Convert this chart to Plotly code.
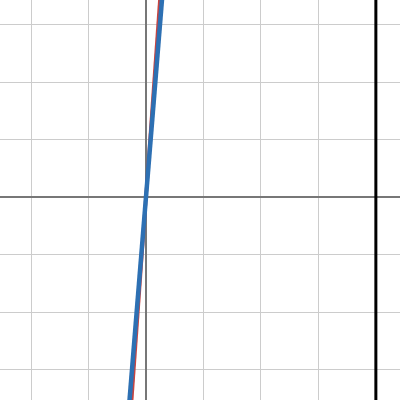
import plotly.graph_objects as go

red_x = [-0.26, 0.26]
red_y = [-3.7, 3.7]
blue_x = [-0.30, 0.30]
blue_y = [-3.7, 3.7]
vline_x = [4, 4]
vline_y = [-4, 4]

fig = go.Figure()
fig.add_trace(go.Scatter(x=red_x, y=red_y, mode="lines", line=dict(color="#c74440", width=3.5)))
fig.add_trace(go.Scatter(x=blue_x, y=blue_y, mode="lines", line=dict(color="#2d70b3", width=4.5)))
fig.add_trace(go.Scatter(x=vline_x, y=vline_y, mode="lines", line=dict(color="#000000", width=3)))

axis = dict(showticklabels=False, showgrid=True, gridcolor="#cccccc", gridwidth=1,
            dtick=1, zeroline=True, zerolinecolor="#777777", zerolinewidth=1.5)
fig.update_layout(
    width=400, height=400, margin=dict(l=0, r=0, t=0, b=0),
    paper_bgcolor="white", plot_bgcolor="white", showlegend=False,
    xaxis=dict(range=[-2.54, 4.42], **axis),
    yaxis=dict(range=[-3.53, 3.43], **axis),
)
fig.write_html("out.html", config={"displayModeBar": False},
               post_script="document.body.style.margin='0';document.body.style.overflow='hidden';")
